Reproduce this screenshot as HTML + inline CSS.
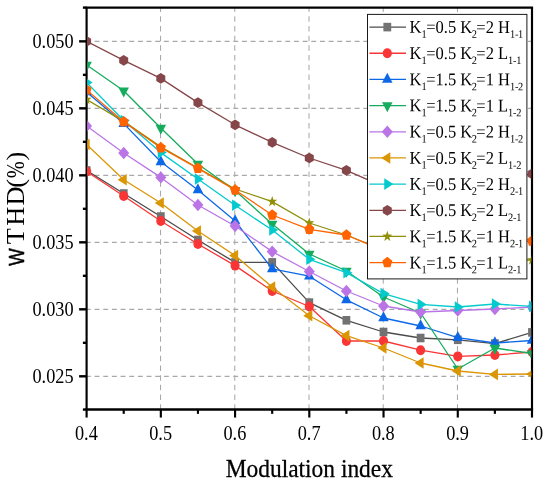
<!DOCTYPE html>
<html lang="en"><head><meta charset="utf-8"><title>WTHD vs Modulation index</title>
<style>html,body{margin:0;padding:0;background:#fff;}body{width:550px;height:486px;overflow:hidden;}svg{display:block;}text{font-family:"Liberation Serif",serif;fill:#000;}</style></head><body>
<svg width="550" height="486" viewBox="0 0 550 486">
<defs>
<g id="m-sq" transform="scale(1,1.10)"><rect x="-3.9" y="-3.9" width="7.8" height="7.8"/></g>
<g id="m-ci" transform="scale(1,1.10)"><circle r="4.55"/></g>
<g id="m-up" transform="scale(1,1.10)"><polygon points="0.00,-6.06 5.25,3.03 -5.25,3.03"/></g>
<g id="m-dn" transform="scale(1,1.10)"><polygon points="0.00,6.06 5.25,-3.03 -5.25,-3.03"/></g>
<g id="m-di" transform="scale(1,1.10)"><polygon points="0.00,-5.60 5.50,0.00 0.00,5.60 -5.50,0.00"/></g>
<g id="m-lt" transform="scale(1,1.10)"><polygon points="-6.06,0.00 3.03,-5.25 3.03,5.25"/></g>
<g id="m-rt" transform="scale(1,1.10)"><polygon points="6.06,0.00 -3.03,-5.25 -3.03,5.25"/></g>
<g id="m-hx" transform="scale(1,1.10)"><polygon points="0.00,-4.85 4.50,-2.42 4.50,2.42 0.00,4.85 -4.50,2.42 -4.50,-2.42"/></g>
<g id="m-st" transform="scale(1,1.10)"><polygon points="0.00,-5.20 1.22,-1.68 4.95,-1.61 1.98,0.64 3.06,4.21 0.00,2.08 -3.06,4.21 -1.98,0.64 -4.95,-1.61 -1.22,-1.68"/></g>
<g id="m-pe" transform="scale(1,1.10)"><polygon points="0.00,-5.30 5.04,-1.64 3.12,4.29 -3.12,4.29 -5.04,-1.64"/></g>
<clipPath id="plot"><rect x="87.30" y="7.60" width="444.00" height="401.95"/></clipPath>
</defs>
<rect width="550" height="486" fill="#fff"/>
<g stroke="#a9a9a9" stroke-width="1.2" fill="none">
<line x1="85.9" y1="376.30" x2="532.00" y2="376.30" stroke-dasharray="4.9 3.77"/>
<line x1="85.9" y1="309.31" x2="532.00" y2="309.31" stroke-dasharray="4.9 3.77"/>
<line x1="85.9" y1="242.32" x2="532.00" y2="242.32" stroke-dasharray="4.9 3.77"/>
<line x1="85.9" y1="175.33" x2="532.00" y2="175.33" stroke-dasharray="4.9 3.77"/>
<line x1="85.9" y1="108.34" x2="532.00" y2="108.34" stroke-dasharray="4.9 3.77"/>
<line x1="85.9" y1="41.35" x2="532.00" y2="41.35" stroke-dasharray="4.9 3.77"/>
<line x1="160.53" y1="409.75" x2="160.53" y2="7.60" stroke-dasharray="5.5 4.2" stroke-width="1.05"/>
<line x1="234.77" y1="409.75" x2="234.77" y2="7.60" stroke-dasharray="5.5 4.2" stroke-width="1.05"/>
<line x1="309.00" y1="409.75" x2="309.00" y2="7.60" stroke-dasharray="5.5 4.2" stroke-width="1.05"/>
<line x1="383.23" y1="409.75" x2="383.23" y2="7.60" stroke-dasharray="5.5 4.2" stroke-width="1.05"/>
<line x1="457.47" y1="409.75" x2="457.47" y2="7.60" stroke-dasharray="5.5 4.2" stroke-width="1.05"/>
</g>
<g stroke="#000" fill="none" stroke-linecap="butt">
<g stroke-width="2.40">
<line x1="85.52" y1="7.60" x2="533.08" y2="7.60"/>
<line x1="85.52" y1="409.55" x2="533.08" y2="409.55"/>
<line x1="86.60" y1="409.55" x2="82.90" y2="409.55"/>
<line x1="86.60" y1="376.30" x2="79.10" y2="376.30"/>
<line x1="86.60" y1="342.81" x2="82.90" y2="342.81"/>
<line x1="86.60" y1="309.31" x2="79.10" y2="309.31"/>
<line x1="86.60" y1="275.82" x2="82.90" y2="275.82"/>
<line x1="86.60" y1="242.32" x2="79.10" y2="242.32"/>
<line x1="86.60" y1="208.83" x2="82.90" y2="208.83"/>
<line x1="86.60" y1="175.33" x2="79.10" y2="175.33"/>
<line x1="86.60" y1="141.83" x2="82.90" y2="141.83"/>
<line x1="86.60" y1="108.34" x2="79.10" y2="108.34"/>
<line x1="86.60" y1="74.84" x2="82.90" y2="74.84"/>
<line x1="86.60" y1="41.35" x2="79.10" y2="41.35"/>
<line x1="86.60" y1="7.60" x2="82.90" y2="7.60"/>
</g>
<g stroke-width="2.15">
<line x1="86.60" y1="7.60" x2="86.60" y2="409.55"/>
<line x1="532.00" y1="7.60" x2="532.00" y2="409.55"/>
<line x1="86.60" y1="409.55" x2="86.60" y2="417.55"/>
<line x1="123.72" y1="409.55" x2="123.72" y2="413.85"/>
<line x1="160.83" y1="409.55" x2="160.83" y2="417.55"/>
<line x1="197.95" y1="409.55" x2="197.95" y2="413.85"/>
<line x1="235.07" y1="409.55" x2="235.07" y2="417.55"/>
<line x1="272.18" y1="409.55" x2="272.18" y2="413.85"/>
<line x1="309.30" y1="409.55" x2="309.30" y2="417.55"/>
<line x1="346.42" y1="409.55" x2="346.42" y2="413.85"/>
<line x1="383.53" y1="409.55" x2="383.53" y2="417.55"/>
<line x1="420.65" y1="409.55" x2="420.65" y2="413.85"/>
<line x1="457.77" y1="409.55" x2="457.77" y2="417.55"/>
<line x1="494.88" y1="409.55" x2="494.88" y2="413.85"/>
<line x1="532.00" y1="409.55" x2="532.00" y2="417.55"/>
</g>
</g>
<g clip-path="url(#plot)">
<polyline points="86.6,170.5 123.7,193.5 160.8,216.5 197.9,240.0 235.1,262.4 272.2,262.4 309.3,302.6 346.4,320.3 383.5,332.0 420.6,338.0 457.8,339.8 494.9,343.6 532.0,332.4" fill="none" stroke="#4c4c4c" stroke-width="1.3" stroke-linejoin="round"/>
<g fill="#727272"><use href="#m-sq" x="86.6" y="170.5"/><use href="#m-sq" x="123.7" y="193.5"/><use href="#m-sq" x="160.8" y="216.5"/><use href="#m-sq" x="197.9" y="240.0"/><use href="#m-sq" x="235.1" y="262.4"/><use href="#m-sq" x="272.2" y="262.4"/><use href="#m-sq" x="309.3" y="302.6"/><use href="#m-sq" x="346.4" y="320.3"/><use href="#m-sq" x="383.5" y="332.0"/><use href="#m-sq" x="420.6" y="338.0"/><use href="#m-sq" x="457.8" y="339.8"/><use href="#m-sq" x="494.9" y="343.6"/><use href="#m-sq" x="532.0" y="332.4"/></g>
<polyline points="86.6,171.5 123.7,196.0 160.8,221.0 197.9,244.0 235.1,265.6 272.2,291.0 309.3,306.5 346.4,341.0 383.5,341.0 420.6,350.2 457.8,356.4 494.9,355.0 532.0,352.0" fill="none" stroke="#F93535" stroke-width="1.3" stroke-linejoin="round"/>
<g fill="#F93535"><use href="#m-ci" x="86.6" y="171.5"/><use href="#m-ci" x="123.7" y="196.0"/><use href="#m-ci" x="160.8" y="221.0"/><use href="#m-ci" x="197.9" y="244.0"/><use href="#m-ci" x="235.1" y="265.6"/><use href="#m-ci" x="272.2" y="291.0"/><use href="#m-ci" x="309.3" y="306.5"/><use href="#m-ci" x="346.4" y="341.0"/><use href="#m-ci" x="383.5" y="341.0"/><use href="#m-ci" x="420.6" y="350.2"/><use href="#m-ci" x="457.8" y="356.4"/><use href="#m-ci" x="494.9" y="355.0"/><use href="#m-ci" x="532.0" y="352.0"/></g>
<polyline points="86.6,92.0 123.7,123.6 160.8,161.8 197.9,190.0 235.1,221.0 272.2,268.9 309.3,276.2 346.4,299.8 383.5,318.0 420.6,326.0 457.8,337.6 494.9,343.0 532.0,340.5" fill="none" stroke="#0D68E8" stroke-width="1.3" stroke-linejoin="round"/>
<g fill="#0D68E8"><use href="#m-up" x="86.6" y="92.0"/><use href="#m-up" x="123.7" y="123.6"/><use href="#m-up" x="160.8" y="161.8"/><use href="#m-up" x="197.9" y="190.0"/><use href="#m-up" x="235.1" y="221.0"/><use href="#m-up" x="272.2" y="268.9"/><use href="#m-up" x="309.3" y="276.2"/><use href="#m-up" x="346.4" y="299.8"/><use href="#m-up" x="383.5" y="318.0"/><use href="#m-up" x="420.6" y="326.0"/><use href="#m-up" x="457.8" y="337.6"/><use href="#m-up" x="494.9" y="343.0"/><use href="#m-up" x="532.0" y="340.5"/></g>
<polyline points="86.6,65.0 123.7,90.8 160.8,128.0 197.9,164.0 235.1,190.5 272.2,224.0 309.3,254.0 346.4,271.0 383.5,297.0 420.6,313.0 457.8,369.0 494.9,348.0 532.0,353.5" fill="none" stroke="#16AC5E" stroke-width="1.3" stroke-linejoin="round"/>
<g fill="#16AC5E"><use href="#m-dn" x="86.6" y="65.0"/><use href="#m-dn" x="123.7" y="90.8"/><use href="#m-dn" x="160.8" y="128.0"/><use href="#m-dn" x="197.9" y="164.0"/><use href="#m-dn" x="235.1" y="190.5"/><use href="#m-dn" x="272.2" y="224.0"/><use href="#m-dn" x="309.3" y="254.0"/><use href="#m-dn" x="346.4" y="271.0"/><use href="#m-dn" x="383.5" y="297.0"/><use href="#m-dn" x="420.6" y="313.0"/><use href="#m-dn" x="457.8" y="369.0"/><use href="#m-dn" x="494.9" y="348.0"/><use href="#m-dn" x="532.0" y="353.5"/></g>
<polyline points="86.6,126.0 123.7,153.0 160.8,177.4 197.9,205.0 235.1,226.0 272.2,251.6 309.3,271.5 346.4,291.0 383.5,306.0 420.6,312.0 457.8,310.5 494.9,309.0 532.0,307.0" fill="none" stroke="#BA74E6" stroke-width="1.3" stroke-linejoin="round"/>
<g fill="#BA74E6"><use href="#m-di" x="86.6" y="126.0"/><use href="#m-di" x="123.7" y="153.0"/><use href="#m-di" x="160.8" y="177.4"/><use href="#m-di" x="197.9" y="205.0"/><use href="#m-di" x="235.1" y="226.0"/><use href="#m-di" x="272.2" y="251.6"/><use href="#m-di" x="309.3" y="271.5"/><use href="#m-di" x="346.4" y="291.0"/><use href="#m-di" x="383.5" y="306.0"/><use href="#m-di" x="420.6" y="312.0"/><use href="#m-di" x="457.8" y="310.5"/><use href="#m-di" x="494.9" y="309.0"/><use href="#m-di" x="532.0" y="307.0"/></g>
<polyline points="86.6,144.4 123.7,179.8 160.8,203.0 197.9,231.0 235.1,255.6 272.2,287.0 309.3,315.8 346.4,335.6 383.5,348.0 420.6,363.0 457.8,371.0 494.9,374.4 532.0,374.0" fill="none" stroke="#DA9605" stroke-width="1.3" stroke-linejoin="round"/>
<g fill="#DA9605"><use href="#m-lt" x="86.6" y="144.4"/><use href="#m-lt" x="123.7" y="179.8"/><use href="#m-lt" x="160.8" y="203.0"/><use href="#m-lt" x="197.9" y="231.0"/><use href="#m-lt" x="235.1" y="255.6"/><use href="#m-lt" x="272.2" y="287.0"/><use href="#m-lt" x="309.3" y="315.8"/><use href="#m-lt" x="346.4" y="335.6"/><use href="#m-lt" x="383.5" y="348.0"/><use href="#m-lt" x="420.6" y="363.0"/><use href="#m-lt" x="457.8" y="371.0"/><use href="#m-lt" x="494.9" y="374.4"/><use href="#m-lt" x="532.0" y="374.0"/></g>
<polyline points="86.6,82.4 123.7,120.5 160.8,152.6 197.9,179.0 235.1,205.3 272.2,230.0 309.3,259.3 346.4,272.7 383.5,293.6 420.6,304.4 457.8,307.0 494.9,304.0 532.0,306.4" fill="none" stroke="#05CACD" stroke-width="1.3" stroke-linejoin="round"/>
<g fill="#05CACD"><use href="#m-rt" x="86.6" y="82.4"/><use href="#m-rt" x="123.7" y="120.5"/><use href="#m-rt" x="160.8" y="152.6"/><use href="#m-rt" x="197.9" y="179.0"/><use href="#m-rt" x="235.1" y="205.3"/><use href="#m-rt" x="272.2" y="230.0"/><use href="#m-rt" x="309.3" y="259.3"/><use href="#m-rt" x="346.4" y="272.7"/><use href="#m-rt" x="383.5" y="293.6"/><use href="#m-rt" x="420.6" y="304.4"/><use href="#m-rt" x="457.8" y="307.0"/><use href="#m-rt" x="494.9" y="304.0"/><use href="#m-rt" x="532.0" y="306.4"/></g>
<polyline points="86.6,41.4 123.7,60.4 160.8,78.4 197.9,102.6 235.1,124.8 272.2,142.4 309.3,158.0 346.4,170.4 383.5,186.6 420.6,190.0 457.8,188.0 494.9,181.0 532.0,173.8" fill="none" stroke="#86474A" stroke-width="1.3" stroke-linejoin="round"/>
<g fill="#86474A"><use href="#m-hx" x="86.6" y="41.4"/><use href="#m-hx" x="123.7" y="60.4"/><use href="#m-hx" x="160.8" y="78.4"/><use href="#m-hx" x="197.9" y="102.6"/><use href="#m-hx" x="235.1" y="124.8"/><use href="#m-hx" x="272.2" y="142.4"/><use href="#m-hx" x="309.3" y="158.0"/><use href="#m-hx" x="346.4" y="170.4"/><use href="#m-hx" x="383.5" y="186.6"/><use href="#m-hx" x="420.6" y="190.0"/><use href="#m-hx" x="457.8" y="188.0"/><use href="#m-hx" x="494.9" y="181.0"/><use href="#m-hx" x="532.0" y="173.8"/></g>
<polyline points="86.6,99.5 123.7,121.4 160.8,146.9 197.9,168.0 235.1,189.0 272.2,201.6 309.3,223.0 346.4,235.0 383.5,250.0 420.6,256.0 457.8,259.0 494.9,260.0 532.0,260.0" fill="none" stroke="#8F8F08" stroke-width="1.3" stroke-linejoin="round"/>
<g fill="#8F8F08"><use href="#m-st" x="86.6" y="99.5"/><use href="#m-st" x="123.7" y="121.4"/><use href="#m-st" x="160.8" y="146.9"/><use href="#m-st" x="197.9" y="168.0"/><use href="#m-st" x="235.1" y="189.0"/><use href="#m-st" x="272.2" y="201.6"/><use href="#m-st" x="309.3" y="223.0"/><use href="#m-st" x="346.4" y="235.0"/><use href="#m-st" x="383.5" y="250.0"/><use href="#m-st" x="420.6" y="256.0"/><use href="#m-st" x="457.8" y="259.0"/><use href="#m-st" x="494.9" y="260.0"/><use href="#m-st" x="532.0" y="260.0"/></g>
<polyline points="86.6,89.9 123.7,121.8 160.8,147.8 197.9,168.4 235.1,190.0 272.2,215.0 309.3,229.3 346.4,235.0 383.5,250.8 420.6,252.0 457.8,249.0 494.9,245.0 532.0,241.0" fill="none" stroke="#FF6400" stroke-width="1.3" stroke-linejoin="round"/>
<g fill="#FF6400"><use href="#m-pe" x="86.6" y="89.9"/><use href="#m-pe" x="123.7" y="121.8"/><use href="#m-pe" x="160.8" y="147.8"/><use href="#m-pe" x="197.9" y="168.4"/><use href="#m-pe" x="235.1" y="190.0"/><use href="#m-pe" x="272.2" y="215.0"/><use href="#m-pe" x="309.3" y="229.3"/><use href="#m-pe" x="346.4" y="235.0"/><use href="#m-pe" x="383.5" y="250.8"/><use href="#m-pe" x="420.6" y="252.0"/><use href="#m-pe" x="457.8" y="249.0"/><use href="#m-pe" x="494.9" y="245.0"/><use href="#m-pe" x="532.0" y="241.0"/></g>
</g>
<rect x="367.5" y="14.4" width="159.4" height="264.5" fill="#fff" stroke="#1a1a1a" stroke-width="1"/>
<line x1="369.4" y1="27.10" x2="406" y2="27.10" stroke="#4c4c4c" stroke-width="1.3"/>
<use href="#m-sq" x="387.3" y="27.10" fill="#727272"/>
<text transform="translate(409.6,32.85) rotate(0.03) scale(0.927,1)" font-size="17.8">K<tspan font-size="11.2" dy="4.9">1</tspan><tspan dx="-0.5" dy="-4.9">=0.5 K</tspan><tspan font-size="11.2" dx="-0.5" dy="4.9">2</tspan><tspan dx="-0.6" dy="-4.9">=2 H</tspan><tspan font-size="11.2" dy="4.9" letter-spacing="-0.25">1-1</tspan></text>
<line x1="369.4" y1="53.27" x2="406" y2="53.27" stroke="#F93535" stroke-width="1.3"/>
<use href="#m-ci" x="387.3" y="53.27" fill="#F93535"/>
<text transform="translate(409.6,59.02) rotate(0.03) scale(0.927,1)" font-size="17.8">K<tspan font-size="11.2" dy="4.9">1</tspan><tspan dx="-0.5" dy="-4.9">=0.5 K</tspan><tspan font-size="11.2" dx="-0.5" dy="4.9">2</tspan><tspan dx="-0.6" dy="-4.9">=2 L</tspan><tspan font-size="11.2" dy="4.9" letter-spacing="-0.25">1-1</tspan></text>
<line x1="369.4" y1="79.44" x2="406" y2="79.44" stroke="#0D68E8" stroke-width="1.3"/>
<use href="#m-up" x="387.3" y="79.44" fill="#0D68E8"/>
<text transform="translate(409.6,85.19) rotate(0.03) scale(0.927,1)" font-size="17.8">K<tspan font-size="11.2" dy="4.9">1</tspan><tspan dx="-0.5" dy="-4.9">=1.5 K</tspan><tspan font-size="11.2" dx="-0.5" dy="4.9">2</tspan><tspan dx="-0.6" dy="-4.9">=1 H</tspan><tspan font-size="11.2" dy="4.9" letter-spacing="-0.25">1-2</tspan></text>
<line x1="369.4" y1="105.61" x2="406" y2="105.61" stroke="#16AC5E" stroke-width="1.3"/>
<use href="#m-dn" x="387.3" y="105.61" fill="#16AC5E"/>
<text transform="translate(409.6,111.36) rotate(0.03) scale(0.927,1)" font-size="17.8">K<tspan font-size="11.2" dy="4.9">1</tspan><tspan dx="-0.5" dy="-4.9">=1.5 K</tspan><tspan font-size="11.2" dx="-0.5" dy="4.9">2</tspan><tspan dx="-0.6" dy="-4.9">=1 L</tspan><tspan font-size="11.2" dy="4.9" letter-spacing="-0.25">1-2</tspan></text>
<line x1="369.4" y1="131.78" x2="406" y2="131.78" stroke="#BA74E6" stroke-width="1.3"/>
<use href="#m-di" x="387.3" y="131.78" fill="#BA74E6"/>
<text transform="translate(409.6,137.53) rotate(0.03) scale(0.927,1)" font-size="17.8">K<tspan font-size="11.2" dy="4.9">1</tspan><tspan dx="-0.5" dy="-4.9">=0.5 K</tspan><tspan font-size="11.2" dx="-0.5" dy="4.9">2</tspan><tspan dx="-0.6" dy="-4.9">=2 H</tspan><tspan font-size="11.2" dy="4.9" letter-spacing="-0.25">1-2</tspan></text>
<line x1="369.4" y1="157.95" x2="406" y2="157.95" stroke="#DA9605" stroke-width="1.3"/>
<use href="#m-lt" x="387.3" y="157.95" fill="#DA9605"/>
<text transform="translate(409.6,163.70) rotate(0.03) scale(0.927,1)" font-size="17.8">K<tspan font-size="11.2" dy="4.9">1</tspan><tspan dx="-0.5" dy="-4.9">=0.5 K</tspan><tspan font-size="11.2" dx="-0.5" dy="4.9">2</tspan><tspan dx="-0.6" dy="-4.9">=2 L</tspan><tspan font-size="11.2" dy="4.9" letter-spacing="-0.25">1-2</tspan></text>
<line x1="369.4" y1="184.12" x2="406" y2="184.12" stroke="#05CACD" stroke-width="1.3"/>
<use href="#m-rt" x="387.3" y="184.12" fill="#05CACD"/>
<text transform="translate(409.6,189.87) rotate(0.03) scale(0.927,1)" font-size="17.8">K<tspan font-size="11.2" dy="4.9">1</tspan><tspan dx="-0.5" dy="-4.9">=0.5 K</tspan><tspan font-size="11.2" dx="-0.5" dy="4.9">2</tspan><tspan dx="-0.6" dy="-4.9">=2 H</tspan><tspan font-size="11.2" dy="4.9" letter-spacing="-0.25">2-1</tspan></text>
<line x1="369.4" y1="210.29" x2="406" y2="210.29" stroke="#86474A" stroke-width="1.3"/>
<use href="#m-hx" x="387.3" y="210.29" fill="#86474A"/>
<text transform="translate(409.6,216.04) rotate(0.03) scale(0.927,1)" font-size="17.8">K<tspan font-size="11.2" dy="4.9">1</tspan><tspan dx="-0.5" dy="-4.9">=0.5 K</tspan><tspan font-size="11.2" dx="-0.5" dy="4.9">2</tspan><tspan dx="-0.6" dy="-4.9">=2 L</tspan><tspan font-size="11.2" dy="4.9" letter-spacing="-0.25">2-1</tspan></text>
<line x1="369.4" y1="236.46" x2="406" y2="236.46" stroke="#8F8F08" stroke-width="1.3"/>
<use href="#m-st" x="387.3" y="236.46" fill="#8F8F08"/>
<text transform="translate(409.6,242.21) rotate(0.03) scale(0.927,1)" font-size="17.8">K<tspan font-size="11.2" dy="4.9">1</tspan><tspan dx="-0.5" dy="-4.9">=1.5 K</tspan><tspan font-size="11.2" dx="-0.5" dy="4.9">2</tspan><tspan dx="-0.6" dy="-4.9">=1 H</tspan><tspan font-size="11.2" dy="4.9" letter-spacing="-0.25">2-1</tspan></text>
<line x1="369.4" y1="262.63" x2="406" y2="262.63" stroke="#FF6400" stroke-width="1.3"/>
<use href="#m-pe" x="387.3" y="262.63" fill="#FF6400"/>
<text transform="translate(409.6,268.38) rotate(0.03) scale(0.927,1)" font-size="17.8">K<tspan font-size="11.2" dy="4.9">1</tspan><tspan dx="-0.5" dy="-4.9">=1.5 K</tspan><tspan font-size="11.2" dx="-0.5" dy="4.9">2</tspan><tspan dx="-0.6" dy="-4.9">=1 L</tspan><tspan font-size="11.2" dy="4.9" letter-spacing="-0.25">2-1</tspan></text>
<text transform="translate(86.40,439.7) rotate(0.02) scale(1,1.15)" font-size="18.3" text-anchor="middle">0.4</text>
<text transform="translate(160.63,439.7) rotate(0.02) scale(1,1.15)" font-size="18.3" text-anchor="middle">0.5</text>
<text transform="translate(234.87,439.7) rotate(0.02) scale(1,1.15)" font-size="18.3" text-anchor="middle">0.6</text>
<text transform="translate(309.10,439.7) rotate(0.02) scale(1,1.15)" font-size="18.3" text-anchor="middle">0.7</text>
<text transform="translate(383.33,439.7) rotate(0.02) scale(1,1.15)" font-size="18.3" text-anchor="middle">0.8</text>
<text transform="translate(457.57,439.7) rotate(0.02) scale(1,1.15)" font-size="18.3" text-anchor="middle">0.9</text>
<text transform="translate(531.80,439.7) rotate(0.02) scale(1,1.15)" font-size="18.3" text-anchor="middle">1.0</text>
<text transform="translate(73.6,383.05) rotate(0.02) scale(1,1.15)" font-size="18.3" text-anchor="end">0.025</text>
<text transform="translate(73.6,316.06) rotate(0.02) scale(1,1.15)" font-size="18.3" text-anchor="end">0.030</text>
<text transform="translate(73.6,249.07) rotate(0.02) scale(1,1.15)" font-size="18.3" text-anchor="end">0.035</text>
<text transform="translate(73.6,182.08) rotate(0.02) scale(1,1.15)" font-size="18.3" text-anchor="end">0.040</text>
<text transform="translate(73.6,115.09) rotate(0.02) scale(1,1.15)" font-size="18.3" text-anchor="end">0.045</text>
<text transform="translate(73.6,48.10) rotate(0.02) scale(1,1.15)" font-size="18.3" text-anchor="end">0.050</text>
<text transform="translate(309.3,477.4) rotate(0.02) scale(1,1.09)" font-size="23.45" stroke="#000" stroke-width="0.25" text-anchor="middle">Modulation index</text>
<text transform="translate(23.7,267) rotate(-90) scale(1.05,1)" font-size="25"><tspan x="1.3" font-family="Liberation Sans, sans-serif" font-size="22.8" stroke="#000" stroke-width="0.55" textLength="16.6" lengthAdjust="spacingAndGlyphs">W</tspan><tspan x="21.6">T</tspan><tspan x="39.3">H</tspan><tspan x="58.5">D</tspan><tspan x="75.6">(</tspan><tspan x="84.5" textLength="16.2" lengthAdjust="spacingAndGlyphs">%</tspan><tspan x="101.5">)</tspan></text>
</svg></body></html>
